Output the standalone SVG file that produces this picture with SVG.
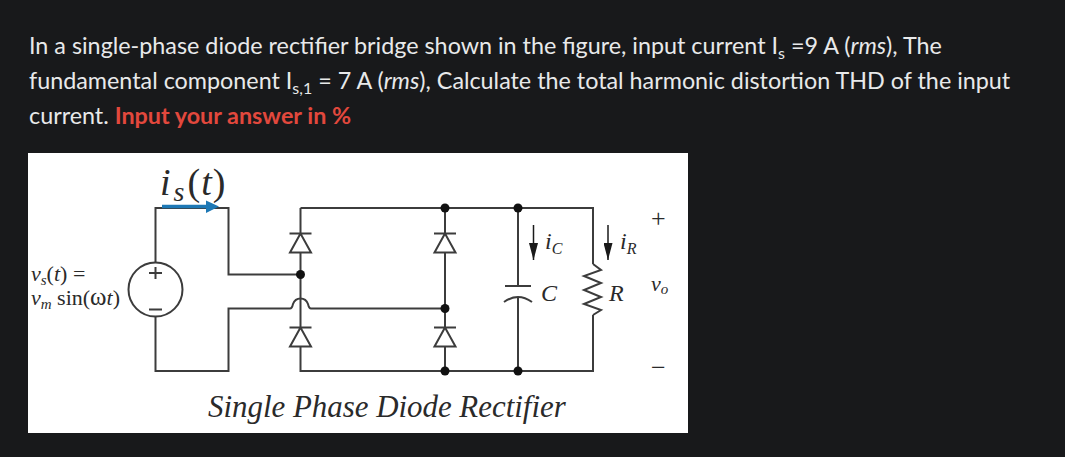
<svg xmlns="http://www.w3.org/2000/svg" width="1065" height="457" viewBox="0 0 1065 457">
<style>
.q{font-family:Lato,"Liberation Sans",sans-serif;font-size:23.330px;fill:#e8e9ea}
.s{font-size:16px}
.r{fill:#e2483d;font-weight:700}
.w{fill:none;stroke:#3c3c3c;stroke-width:2}
.f{fill:#fff;stroke:#3c3c3c;stroke-width:2}
.t{font-family:"Liberation Serif",serif;fill:#2a2a2a}
.i{font-style:italic}
.d{fill:#111}
</style>
<defs>
<g id="diode"><path class="f" d="M-11 0H11M0 0L-10.500 19H10.500Z"/></g>
<marker id="down" markerWidth="17" markerHeight="9" refX="17" refY="4.500" orient="auto" markerUnits="userSpaceOnUse"><path d="M0 0L17 4.500L0 9Z" fill="#1a1a1a"/></marker>
</defs>
<rect width="1065" height="457" fill="#18191b"/>
<g id="question">
<text class="q" x="29" y="54">In a single-phase diode rectifier bridge shown in the figure, input current I<tspan class="s" dy="5">s</tspan><tspan dy="-5"> =9 A (</tspan><tspan font-style="italic">rms</tspan>), The</text>
<text class="q" x="29" y="89">fundamental component I<tspan class="s" dy="5">s,1</tspan><tspan dy="-5"> = 7 A (</tspan><tspan font-style="italic">rms</tspan>), Calculate the total harmonic distortion THD of the input</text>
<text class="q" x="29" y="124">current. <tspan class="r">Input your answer in %</tspan></text>
</g>
<rect id="figure" x="28" y="153" width="660" height="280" fill="#fff"/>
<g id="connectors">
<path class="w" d="M155.500 263V208H228.500V274.500H300.500"/>
<path class="w" d="M155.500 316V371H228.500V308.500H290Q292 308.500 293 304Q295 298.500 300.500 298.500Q306 298.500 308 304Q309 308.500 311 308.500H445"/>
<path class="w" d="M300.500 208H593V264M593 315V371H300.500V208"/>
<path class="w" d="M445 208V371"/>
<path class="w" d="M518 208V286M518 297V371"/>
<path d="M162 206.500H208" stroke="#1d78b5" stroke-width="3.500" fill="none"/>
<path d="M206 200.500L219 206.500L206 213Z" fill="#1d78b5"/>
<path d="M533.500 225V260" stroke="#1a1a1a" stroke-width="1.500" fill="none" marker-end="url(#down)"/>
<path d="M608 225V260" stroke="#1a1a1a" stroke-width="1.500" fill="none" marker-end="url(#down)"/>
</g>
<g id="source">
<circle class="f" cx="155.500" cy="289.500" r="27"/>
<path class="w" d="M149 273H162M155.500 267V279M149 309.500H162"/>
</g>
<g id="d1"><use href="#diode" x="300.500" y="233.500"/></g>
<g id="d2"><use href="#diode" x="300.500" y="327.500"/></g>
<g id="d3"><use href="#diode" x="445" y="233.500"/></g>
<g id="d4"><use href="#diode" x="445" y="327.500"/></g>
<g id="junctions">
<circle class="d" cx="300.500" cy="274.500" r="4.500"/>
<circle class="d" cx="445" cy="208" r="4.500"/>
<circle class="d" cx="445" cy="308.500" r="4.500"/>
<circle class="d" cx="445" cy="371" r="4.500"/>
<circle class="d" cx="518" cy="208" r="4.500"/>
<circle class="d" cx="518" cy="371" r="4.500"/>
</g>
<g id="capacitor">
<path class="w" d="M505 286H531M504 302Q518 292 532 302"/>
</g>
<g id="resistor">
<path class="w" d="M593 264L601 270L584 276L601 283L584 290L601 297L584 304L601 310L593 315"/>
</g>
<g id="labels">
<text class="t i" x="160" y="195" font-size="38">i<tspan font-size="28" dx="3" dy="6">s</tspan><tspan dx="3" dy="-6" font-style="normal">(</tspan><tspan dx="1">t</tspan><tspan dx="1" font-style="normal">)</tspan></text>
<text class="t" x="31" y="281" font-size="22"><tspan class="i">v</tspan><tspan class="i" font-size="15" dy="4">s</tspan><tspan dy="-4">(</tspan><tspan class="i">t</tspan>) =</text>
<text class="t" x="31" y="305" font-size="22"><tspan class="i">v</tspan><tspan class="i" font-size="15" dy="4">m</tspan><tspan dy="-4"> sin(</tspan><tspan font-size="25">ω</tspan><tspan class="i">t</tspan>)</text>
<text class="t i" x="545" y="249" font-size="24">i<tspan font-size="16" dy="5">C</tspan></text>
<text class="t i" x="541" y="301" font-size="24">C</text>
<text class="t i" x="620" y="249" font-size="24">i<tspan font-size="16" dy="5">R</tspan></text>
<text class="t i" x="609" y="301" font-size="24">R</text>
<text class="t i" x="651" y="291" font-size="22">v<tspan font-size="15" dy="3">o</tspan></text>
<text class="t" x="651" y="227" font-size="26">+</text>
<text class="t" x="651" y="376" font-size="26">−</text>
<text class="t i" x="208" y="417" font-size="30.900">Single Phase Diode Rectifier</text>
</g>
</svg>
